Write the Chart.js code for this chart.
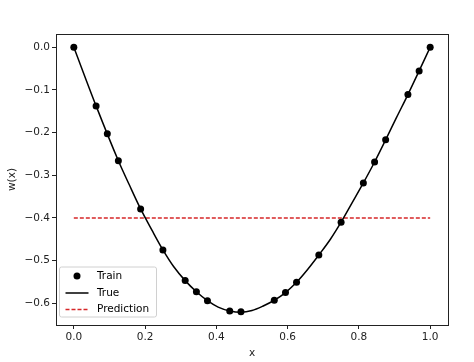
<!DOCTYPE html>
<html>
<head>
<meta charset="utf-8">
<script src="https://cdn.jsdelivr.net/npm/chart.js@4"></script>
<style>
  html, body { margin: 0; padding: 0; background: #fff; }
  #wrap { width: 474px; height: 362px; }
</style>
</head>
<body>
<div id="wrap"><canvas id="wChart" width="474" height="362"></canvas></div>
<script>
// training samples
const trainX = [0, 0.0625, 0.094, 0.125, 0.1875, 0.25, 0.3125, 0.344, 0.375, 0.4375, 0.469,
                0.5625, 0.594, 0.625, 0.6875, 0.75, 0.8125, 0.844, 0.875, 0.9375, 0.969, 1.0];
const trainY = [0, -0.1375, -0.203, -0.266, -0.379, -0.475, -0.547, -0.573, -0.594, -0.618, -0.620,
                -0.593, -0.575, -0.551, -0.487, -0.41, -0.318, -0.269, -0.217, -0.111, -0.0555, 0];

// true curve
const trueX = [0, 0.0625, 0.125, 0.156, 0.1875, 0.22, 0.25, 0.28, 0.3125, 0.344, 0.375, 0.405,
               0.4375, 0.469, 0.5, 0.53, 0.5625, 0.594, 0.625, 0.656, 0.6875, 0.72, 0.75, 0.78,
               0.8125, 0.844, 0.875, 0.906, 0.9375, 0.969, 1.0];
const trueY = [0, -0.1375, -0.266, -0.323, -0.379, -0.43, -0.475, -0.514, -0.547, -0.573, -0.594, -0.609,
               -0.618, -0.621, -0.617, -0.607, -0.593, -0.575, -0.551, -0.521, -0.487, -0.45, -0.41, -0.366,
               -0.318, -0.269, -0.217, -0.164, -0.111, -0.0555, 0];

// constant prediction
const predX = [0, 1];
const predY = [-0.4, -0.4];

const xTicks = [0, 0.2, 0.4, 0.6, 0.8, 1.0];
const yTicks = [0, -0.1, -0.2, -0.3, -0.4, -0.5, -0.6];

const FONT = 'DejaVu Sans';
const FSIZE = 10.5;
const RED = '#d62728';

const pts = (xs, ys) => xs.map((x, i) => ({ x: x, y: ys[i] }));
const fmt = v => { const s = Math.abs(v).toFixed(1); return v < -1e-9 ? '\u2212' + s : s; };

// frame around the axes + legend inside the plot
const framePlugin = {
    id: 'frame',
    afterDatasetsDraw(chart) {
        const { ctx, chartArea: a } = chart;
        ctx.save();
        ctx.strokeStyle = '#222';
        ctx.lineWidth = 1;
        ctx.strokeRect(Math.round(a.left) + 0.5, Math.round(a.top) + 0.5,
                       Math.round(a.right - a.left), Math.round(a.bottom - a.top));

        // legend
        const bx = a.left + 3.5, by = a.bottom - 58, bw = 97, bh = 50;
        ctx.beginPath();
        ctx.roundRect(bx, by, bw, bh, 2);
        ctx.fillStyle = 'rgba(255,255,255,0.8)';
        ctx.fill();
        ctx.strokeStyle = '#d0d0d0';
        ctx.stroke();

        const rows = [by + 9, by + 26, by + 42.5];
        const lx0 = bx + 6, lx1 = bx + 29, tx = bx + 37.5;
        ctx.fillStyle = '#000';
        ctx.beginPath();
        ctx.arc((lx0 + lx1) / 2, rows[0], 3.5, 0, Math.PI * 2);
        ctx.fill();

        ctx.lineWidth = 1.5;
        ctx.strokeStyle = '#000';
        ctx.beginPath();
        ctx.moveTo(lx0, rows[1]); ctx.lineTo(lx1, rows[1]);
        ctx.stroke();

        ctx.strokeStyle = RED;
        ctx.setLineDash([4, 2]);
        ctx.beginPath();
        ctx.moveTo(lx0, rows[2]); ctx.lineTo(lx1, rows[2]);
        ctx.stroke();
        ctx.setLineDash([]);

        ctx.font = FSIZE + 'px "' + FONT + '"';
        ctx.fillStyle = '#000';
        ctx.textBaseline = 'middle';
        ctx.textAlign = 'left';
        ctx.fillText('Train', tx, rows[0]);
        ctx.fillText('True', tx, rows[1]);
        ctx.fillText('Prediction', tx, rows[2]);
        ctx.restore();
    }
};

const ctx = document.getElementById('wChart').getContext('2d');
const wChart = new Chart(ctx, {
    type: 'line',
    data: {
        datasets: [{
            label: 'Prediction',
            data: pts(predX, predY),
            borderColor: RED,
            borderWidth: 1.5,
            borderDash: [4, 2],
            pointRadius: 0,
            fill: false,
            order: 3
        }, {
            label: 'True',
            data: pts(trueX, trueY),
            borderColor: '#000',
            borderWidth: 1.5,
            pointRadius: 0,
            cubicInterpolationMode: 'monotone',
            fill: false,
            order: 2
        }, {
            label: 'Train',
            data: pts(trainX, trainY),
            showLine: false,
            pointRadius: 3.5,
            pointBackgroundColor: '#000',
            pointBorderColor: '#000',
            pointBorderWidth: 0,
            order: 1
        }]
    },
    options: {
        responsive: false,
        animation: false,
        layout: { padding: { top: 34, right: 26, left: 0, bottom: 0 } },
        plugins: {
            legend: { display: false },
            tooltip: { enabled: false }
        },
        scales: {
            x: {
                type: 'linear',
                min: -0.05,
                max: 1.05,
                afterBuildTicks: s => { s.ticks = xTicks.map(v => ({ value: v })); },
                afterFit: s => { s.height = 37; },
                border: { display: false },
                grid: { drawOnChartArea: false, tickLength: 4, tickColor: '#222', tickWidth: 1 },
                ticks: { padding: 2, color: '#222', font: { family: FONT, size: FSIZE }, callback: v => fmt(v), maxRotation: 0 },
                title: { display: true, text: 'x', color: '#222', font: { family: FONT, size: FSIZE }, padding: { top: 0, bottom: 2 } }
            },
            y: {
                type: 'linear',
                min: -0.651,
                max: 0.031,
                afterBuildTicks: s => { s.ticks = yTicks.map(v => ({ value: v })); },
                afterFit: s => { s.width = 56; },
                border: { display: false },
                grid: { drawOnChartArea: false, tickLength: 4, tickColor: '#222', tickWidth: 1 },
                ticks: { padding: 2, color: '#222', font: { family: FONT, size: FSIZE }, callback: v => fmt(v) },
                title: { display: true, text: 'w(x)', color: '#222', font: { family: FONT, size: FSIZE }, padding: { top: 6, bottom: 0 } }
            }
        }
    },
    plugins: [framePlugin]
});
</script>
</body>
</html>
